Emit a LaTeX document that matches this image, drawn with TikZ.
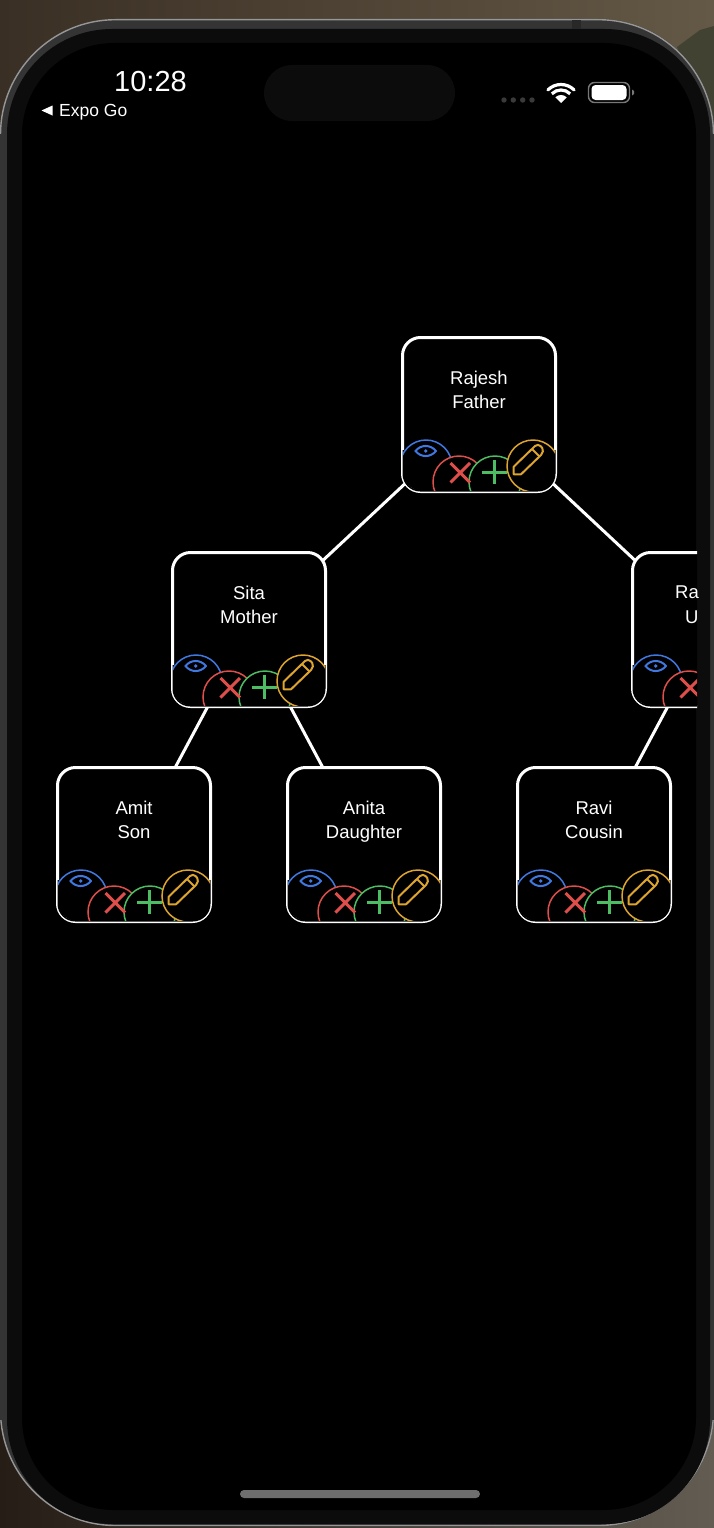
\documentclass[tikz,border=0pt]{standalone}
\usepackage{fontspec}
\setmainfont{Liberation Sans}
\definecolor{eyeblue}{HTML}{3F78E0}
\definecolor{xred}{HTML}{DE4F4B}
\definecolor{plusgreen}{HTML}{4DBD63}
\definecolor{penyellow}{HTML}{DDA52F}
\definecolor{bgtopleft}{RGB}{58,47,36}
\definecolor{bgtopright}{RGB}{100,88,70}
\definecolor{bgleaf}{RGB}{66,66,50}
\definecolor{bgbotleft}{RGB}{38,29,22}
\definecolor{bgbotright}{RGB}{98,92,82}
\definecolor{bandgray}{RGB}{52,52,52}
\definecolor{rimgray}{RGB}{150,150,150}
\definecolor{bezeldark}{RGB}{12,12,12}
\definecolor{seamgray}{RGB}{40,40,40}
\definecolor{islanddark}{RGB}{12,12,12}
\definecolor{homegray}{RGB}{110,110,110}
\definecolor{dotgray}{RGB}{58,58,58}
\definecolor{batterygray}{RGB}{120,120,120}
\pgfdeclarelayer{backdrop}
\pgfdeclarelayer{links}
\pgfsetlayers{backdrop,links,main}
\tikzset{
  cardbox/.style={draw=white,line width=3pt,fill=black,rounded corners=18pt,minimum width=153pt,minimum height=154pt,inner sep=0pt,outer sep=0pt},
  cardtext/.style={text=white,font=\fontsize{18.5}{24.5}\selectfont,align=center,inner sep=0pt},
  link/.style={draw=white,line width=3pt},
  blob/.style={fill=black,line width=1.5pt},
  ring/.style={line width=1.5pt},
  icon/.style={line width=2pt,line join=round},
  statustext/.style={text=white,inner sep=0pt,anchor=base west},
}
\newcommand{\famcard}[4]{%
  \node[cardbox] (#1) at (#2,#3) {};
  \begin{scope}[shift={(#2,#3)}]
    \begin{scope}
      \clip (-80,36) rectangle (80,80);
      \draw[black,line width=1.4pt,rounded corners=17pt] (-75.8,-76.3) rectangle (75.8,76.3);
    \end{scope}
    \begin{scope}
      \clip[rounded corners=18pt] (-76,-76.4) rectangle (76,76.4);
      \fill[black] (-53,51.5) circle[radius=26pt];
      \begin{scope}
        \clip (-80,-80) rectangle (80,50);
        \draw[ring,eyeblue] (-53,51.5) circle[radius=26pt];
      \end{scope}
      \draw[blob,draw=xred] (-20,67.5) circle[radius=26pt];
      \draw[blob,draw=plusgreen] (16,67.5) circle[radius=26pt];
      \fill[black] (54,51.5) circle[radius=26pt];
      \begin{scope}
        \clip (-80,-80) rectangle (80,50) (-80,50) rectangle (50,80);
        \draw[ring,penyellow] (54,51.5) circle[radius=26pt];
      \end{scope}
    \end{scope}
    \draw[icon,eyeblue] (-63.6,36.5) .. controls (-58,29.8) and (-48.6,29.8) .. (-43,36.5) .. controls (-48.6,43.2) and (-58,43.2) .. (-63.6,36.5) -- cycle;
    \fill[eyeblue] (-53.3,36.5) circle[radius=1.9pt];
    \draw[xred,line width=3pt] (-28.5,48.5) -- (-9,68) (-9,48.5) -- (-28.5,68);
    \draw[plusgreen,line width=3pt] (3,57.7) -- (28,57.7) (15.5,45.7) -- (15.5,69.7);
    \draw[icon,penyellow] (34.7,52.2) -- (56,31.5) .. controls (58,30) and (60,30) .. (61.5,31.5) -- (63.3,33.5) .. controls (64.5,35.5) and (64,38) .. (62,40.5) -- (42,59.8) -- (34.7,59.8) -- cycle;
    \draw[icon,penyellow] (53,34.5) -- (60.7,42.2);
    \node[cardtext] (#1text) at (0,-22.7) {#4};
  \end{scope}%
}
\begin{document}
\begin{tikzpicture}[x=1pt,y=-1pt]
\useasboundingbox (0,0) rectangle (714,1528);
\begin{pgfonlayer}{backdrop}
  \shade[left color=bgtopleft,right color=bgtopright] (0,0) rectangle (714,200);
  \fill[bgleaf] (677,47) -- (700,30) -- (714,26) -- (714,140) -- cycle;
  \shade[left color=bgbotleft,right color=bgbotright] (0,200) rectangle (714,1528);
  \fill[bandgray,rounded corners=115pt] (0,19) rectangle (714,1526);
  \draw[rimgray,line width=1.4pt,rounded corners=115pt] (0.5,19.7) rectangle (713.5,1525.5);
  \fill[bandgray] (0,134) rectangle (714,1420);
  \fill[bezeldark,rounded corners=105pt] (7,29) rectangle (710,1524);
  \fill[black,rounded corners=92pt] (22,43) rectangle (696,1510);
  \fill[seamgray] (572,20) rectangle (581,29);
  \fill[islanddark,rounded corners=28pt] (264,65) rectangle (455,121);
  \fill[homegray,rounded corners=4pt] (240,1490) rectangle (480,1498);
\end{pgfonlayer}
\node[statustext,font=\fontsize{29}{29}\selectfont] (clock) at (114,91) {10:28};
\node[statustext,font=\fontsize{17.5}{18}\selectfont] (expo) at (59,116.5) {Expo Go};
\fill[white] (41.5,110.5) -- (52.5,105.5) -- (52.5,115.5) -- cycle;
\foreach \dotx in {504,513.3,522.7,532} \fill[dotgray] (\dotx,100) circle[radius=2.7pt];
\begin{scope}[shift={(561,103)},y=1pt]
  \fill[white] (0,0) -- (45:8pt) arc[start angle=45,end angle=135,radius=8pt] -- cycle;
  \draw[white,line width=3.2pt] (45:13pt) arc[start angle=45,end angle=135,radius=13pt];
  \draw[white,line width=3.2pt,line cap=round] (45:18.5pt) arc[start angle=45,end angle=135,radius=18.5pt];
\end{scope}
\draw[batterygray,line width=1.4pt,rounded corners=6pt] (588.5,82.5) rectangle (629.5,102.5);
\fill[white,rounded corners=4pt] (591.5,85) rectangle (626.5,100);
\fill[batterygray] (632,89.5) -- (634,91) -- (634,94) -- (632,95.5) -- cycle;
\famcard{rajesh}{479}{414.5}{Rajesh\strut\\Father\strut}
\famcard{sita}{249}{629.5}{Sita\strut\\Mother\strut}
\famcard{amit}{134}{844.5}{Amit\strut\\Son\strut}
\famcard{anita}{364}{844.5}{Anita\strut\\Daughter\strut}
\famcard{ravi}{594}{844.5}{Ravi\strut\\Cousin\strut}
\begin{scope}
  \clip (600,540) rectangle (697,720);
  \famcard{uncle}{709}{629.5}{}
\end{scope}
\node[cardtext,anchor=base west] (unclename) at (675,598.5) {Ra};
\node[cardtext,anchor=base west] (unclerole) at (685,623) {U};
\begin{pgfonlayer}{links}
  \begin{scope}
    \clip (22,300) rectangle (696,1000);
    \draw[link] (rajesh.center) -- (sita.center);
    \draw[link] (rajesh.center) -- (uncle.center);
    \draw[link] (sita.center) -- (amit.center);
    \draw[link] (sita.center) -- (anita.center);
    \draw[link] (uncle.center) -- (ravi.center);
  \end{scope}
\end{pgfonlayer}
\end{tikzpicture}
\end{document}
